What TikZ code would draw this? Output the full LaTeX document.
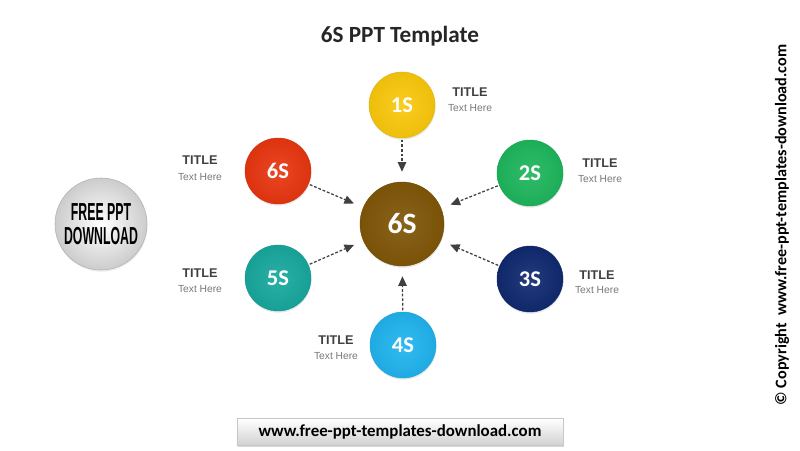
\documentclass[tikz,border=0pt]{standalone}
\usepackage{fontspec}
\setmainfont{Carlito}
\newfontfamily\labelfont{Liberation Sans}
\newfontfamily\badgefont[FakeStretch=0.5]{Liberation Sans}
\usetikzlibrary{arrows.meta,shadows}

\definecolor{sYellow}{RGB}{250,200,12}
\definecolor{sRed}{RGB}{232,54,16}
\definecolor{sGreen}{RGB}{30,182,92}
\definecolor{sNavy}{RGB}{16,42,112}
\definecolor{sTeal}{RGB}{24,168,158}
\definecolor{sBlue}{RGB}{32,180,238}
\definecolor{sBrown}{RGB}{128,86,8}
\definecolor{darktext}{RGB}{64,64,64}
\definecolor{lighttext}{RGB}{120,120,120}

\tikzset{
  sball/.style={circle, minimum size=1.65cm, inner sep=0pt, inner color=#1!92!white,
    outer color=#1!95!black, draw=#1!90!black, line width=0.3pt, text=white,
    font=\bfseries\fontsize{16}{16}\selectfont,
    drop shadow={opacity=0.18, shadow xshift=0.4pt, shadow yshift=-1.2pt}},
  ttl/.style={font=\labelfont\bfseries\fontsize{9}{9}\selectfont, text=darktext, inner sep=0pt},
  txt/.style={font=\labelfont\fontsize{7.3}{7.3}\selectfont, text=lighttext, inner sep=0pt},
  flow/.style={draw=darktext, line width=0.9pt, dash pattern=on 2pt off 1.3pt,
    -{Triangle[length=2.4mm,width=2.1mm]}, shorten >=0.25cm, shorten <=1pt}
}

\begin{document}
\begin{tikzpicture}[x=0.025cm, y=-0.025cm]
  \useasboundingbox (0,0) rectangle (800,450);

  % heading
  \node[font=\bfseries\fontsize{16.5}{16.5}\selectfont, text=black!85] (head) at (400,36) {6S PPT Template};

  % the six balls and the centre
  \node[sball=sBrown, minimum size=2.1cm, font=\bfseries\fontsize{21}{21}\selectfont] (c) at (402,224) {6S};
  \node[sball=sYellow] (s1) at (402,105) {1S};
  \node[sball=sGreen] (s2) at (530,173) {2S};
  \node[sball=sNavy] (s3) at (530,279) {3S};
  \node[sball=sBlue] (s4) at (403,345) {4S};
  \node[sball=sTeal] (s5) at (278,278) {5S};
  \node[sball=sRed] (s6) at (278,171) {6S};

  % arrows into the centre
  \foreach \s in {s1,s2,s3,s4,s5,s6}
    \draw[flow] (\s) -- (c);

  % labels
  \node[ttl] (t1) at (470,92) {TITLE};
  \node[txt] (h1) at (470,108) {Text Here};
  \node[ttl] (t2) at (600,163) {TITLE};
  \node[txt] (h2) at (600,179) {Text Here};
  \node[ttl] (t3) at (597,275) {TITLE};
  \node[txt] (h3) at (597,290) {Text Here};
  \node[ttl] (t4) at (336,340) {TITLE};
  \node[txt] (h4) at (336,356) {Text Here};
  \node[ttl] (t5) at (200,273) {TITLE};
  \node[txt] (h5) at (200,289) {Text Here};
  \node[ttl] (t6) at (200,160) {TITLE};
  \node[txt] (h6) at (200,177) {Text Here};

  % badge
  \node[circle, minimum size=2.3cm, inner sep=0pt, inner color=white, outer color=black!20,
    draw=black!30, line width=0.4pt, align=center,
    font=\badgefont\bfseries\fontsize{17.5}{17}\selectfont,
    drop shadow={opacity=0.15, shadow xshift=0.4pt, shadow yshift=-1.2pt}] (badge) at (101,224) {FREE PPT\\DOWNLOAD};

  % web banner
  \node[minimum width=8.15cm, minimum height=0.675cm, top color=white, bottom color=black!18,
    draw=black!22, line width=0.3pt, font=\bfseries\fontsize{12}{12}\selectfont,
    drop shadow={opacity=0.3, shadow xshift=0.6pt, shadow yshift=-1.2pt}] (web) at (400,432)
    {www.free-ppt-templates-download.com};

  % copyright
  \node[rotate=90, font=\bfseries\fontsize{11.5}{11.5}\selectfont] (copy) at (782,225)
    {© Copyright\ \ www.free-ppt-templates-download.com};

\end{tikzpicture}
\end{document}
